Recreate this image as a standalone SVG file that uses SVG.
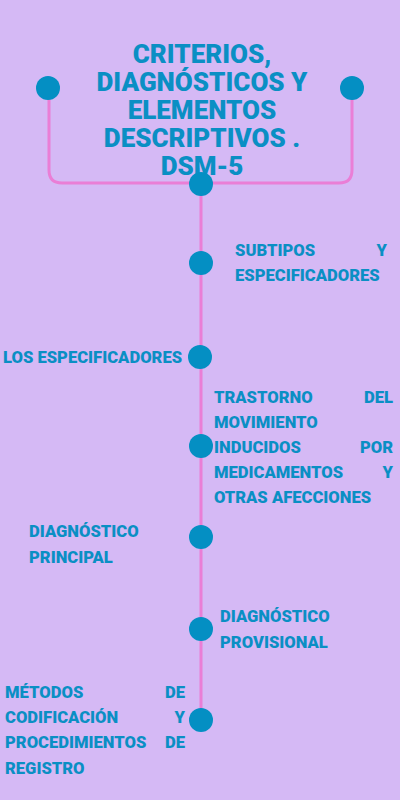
<svg xmlns="http://www.w3.org/2000/svg" width="400" height="800" viewBox="0 0 400 800">
<style>
.bg{fill:#d5b9f5}
.dot{fill:#048fc3}
.ln{fill:none;stroke:#ea7ed6;stroke-width:3}
.t{font-family:Roboto,"Liberation Sans",sans-serif;font-weight:900;fill:#0a8fc4}
.title{font-size:26px;text-anchor:middle}
.lb{font-size:16.6px}
.e{text-anchor:end}
</style>
<rect class="bg" x="0" y="0" width="400" height="800"/>
<g id="connectors">
<path class="ln" d="M49,88 V170 Q49,183 62,183 H339 Q352,183 352,170 V88"/>
<line class="ln" x1="201" y1="184" x2="201" y2="720"/>
</g>
<g id="title">
<circle class="dot" cx="48" cy="88" r="12"/>
<circle class="dot" cx="352" cy="88" r="12"/>
<text class="t title" x="202" y="63">CRITERIOS,</text>
<text class="t title" x="202" y="91">DIAGNÓSTICOS Y</text>
<text class="t title" x="202" y="119">ELEMENTOS</text>
<text class="t title" x="202" y="147">DESCRIPTIVOS .</text>
<text class="t title" x="202" y="175">DSM-5</text>
<circle class="dot" cx="201" cy="184" r="12"/>
</g>
<g id="n1">
<circle class="dot" cx="201" cy="263" r="12"/>
<text class="t lb" x="235" y="256">SUBTIPOS</text>
<text class="t lb e" x="387" y="256">Y</text>
<text class="t lb" x="235" y="281">ESPECIFICADORES</text>
</g>
<g id="n2">
<circle class="dot" cx="200" cy="357" r="12"/>
<text class="t lb" x="3" y="363">LOS ESPECIFICADORES</text>
</g>
<g id="n3">
<circle class="dot" cx="201" cy="446" r="12"/>
<text class="t lb" x="214" y="403">TRASTORNO</text>
<text class="t lb e" x="393" y="403">DEL</text>
<text class="t lb" x="214" y="428">MOVIMIENTO</text>
<text class="t lb" x="214" y="453">INDUCIDOS</text>
<text class="t lb e" x="393" y="453">POR</text>
<text class="t lb" x="214" y="478">MEDICAMENTOS</text>
<text class="t lb e" x="393" y="478">Y</text>
<text class="t lb" x="214" y="503">OTRAS AFECCIONES</text>
</g>
<g id="n4">
<circle class="dot" cx="201" cy="537" r="12"/>
<text class="t lb" x="29" y="537">DIAGNÓSTICO</text>
<text class="t lb" x="29" y="563">PRINCIPAL</text>
</g>
<g id="n5">
<circle class="dot" cx="201" cy="629" r="12"/>
<text class="t lb" x="220" y="622">DIAGNÓSTICO</text>
<text class="t lb" x="220" y="648">PROVISIONAL</text>
</g>
<g id="n6">
<circle class="dot" cx="201" cy="720" r="12"/>
<text class="t lb" x="5" y="698">MÉTODOS</text>
<text class="t lb e" x="185" y="698">DE</text>
<text class="t lb" x="5" y="723">CODIFICACIÓN</text>
<text class="t lb e" x="185" y="723">Y</text>
<text class="t lb" x="5" y="748">PROCEDIMIENTOS</text>
<text class="t lb e" x="185" y="748">DE</text>
<text class="t lb" x="5" y="774">REGISTRO</text>
</g>
</svg>
